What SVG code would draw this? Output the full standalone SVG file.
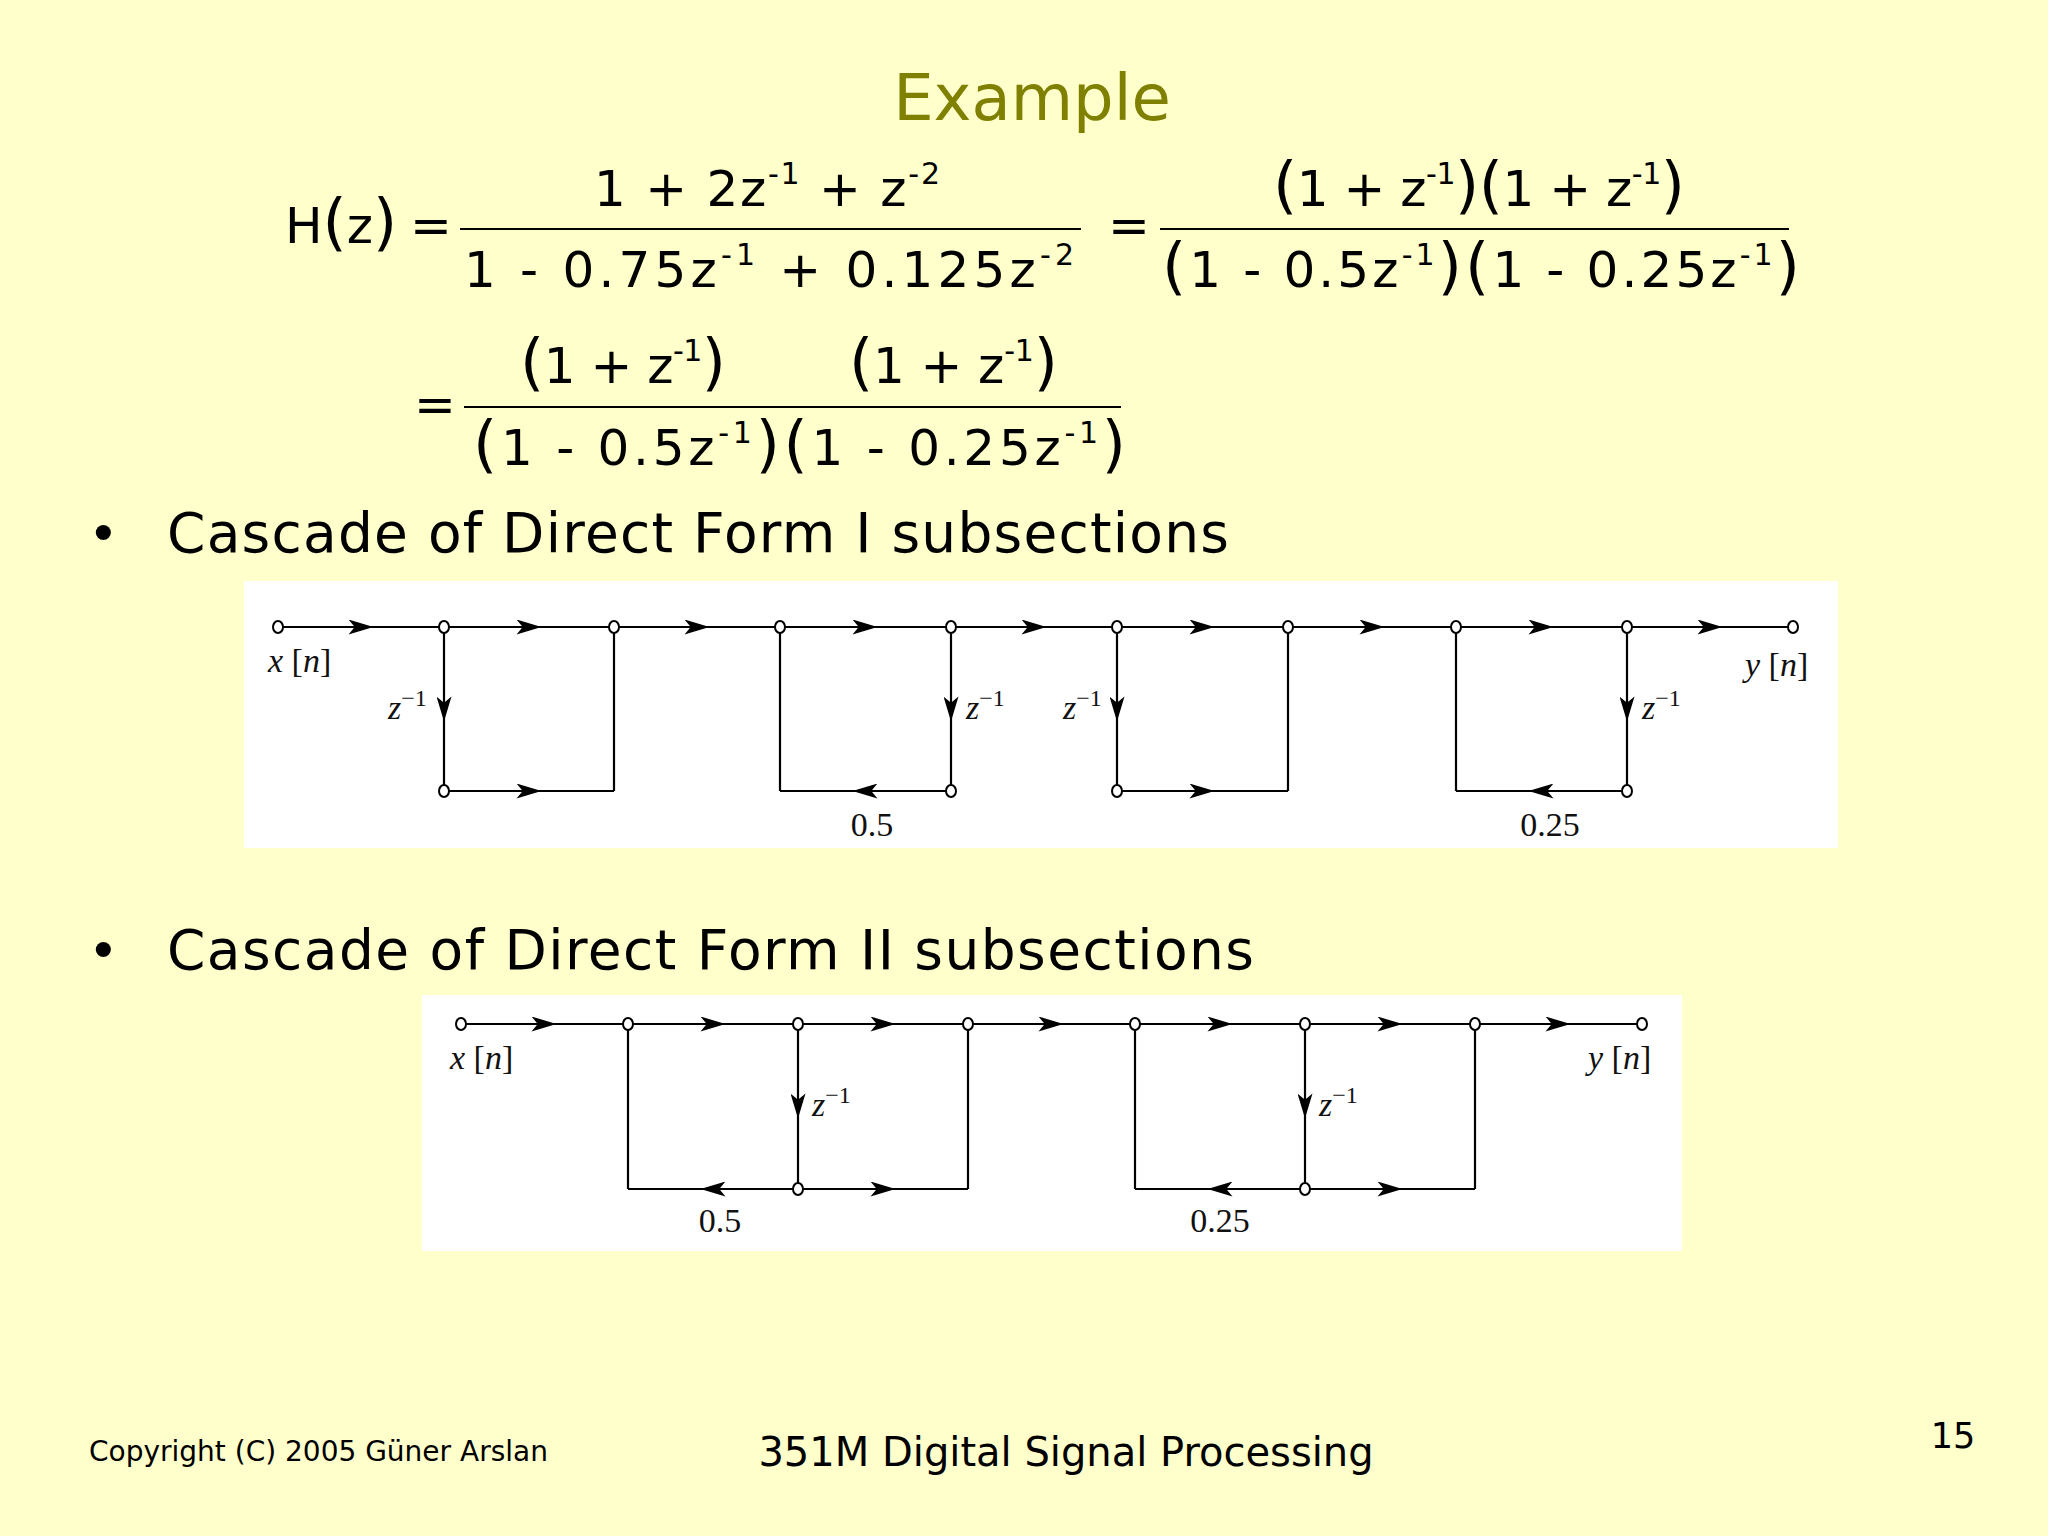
<svg xmlns="http://www.w3.org/2000/svg" width="2048" height="1536" viewBox="0 0 2048 1536">
<defs>
<marker id="ah" viewBox="0 0 20 12" refX="10" refY="6" markerWidth="26" markerHeight="15" markerUnits="userSpaceOnUse" orient="auto"><path d="M0,0 L20,6 L0,12 L5,6 Z" fill="#000"/></marker>
</defs>
<style>
.eq{font-family:"DejaVu Sans",Verdana,sans-serif;font-size:50px;fill:#000}
.sup{font-size:30px}
.w{font-family:"DejaVu Sans",Verdana,sans-serif;fill:#000}
.e{fill:none;stroke:#000;stroke-width:2.2}
.a{fill:none;stroke:#000;stroke-width:2.2;marker-mid:url(#ah)}
.n{fill:#fff;stroke:#000;stroke-width:2}
.l{font-family:"Liberation Serif","Times New Roman",serif;font-size:34px;fill:#111}
.i{font-style:italic}
</style>
<rect width="2048" height="1536" fill="#FFFFCC"/>
<text x="1032" y="120" text-anchor="middle" font-family="DejaVu Sans,Verdana,sans-serif" font-size="64" fill="#808000">Example</text>

<g id="equations">
<text class="eq" x="285" y="243">H<tspan font-size="62">(</tspan>z<tspan font-size="62">)</tspan></text>
<text class="eq" x="410" y="243">=</text>
<text class="eq" x="594" y="206" textLength="346" lengthAdjust="spacing">1 + 2z<tspan class="sup" dy="-22">-1</tspan><tspan dy="22"> + z</tspan><tspan class="sup" dy="-22">-2</tspan></text>
<line x1="460" y1="229" x2="1081" y2="229" stroke="#000" stroke-width="2"/>
<text class="eq" x="464" y="287" textLength="610" lengthAdjust="spacing">1 - 0.75z<tspan class="sup" dy="-22">-1</tspan><tspan dy="22"> + 0.125z</tspan><tspan class="sup" dy="-22">-2</tspan></text>
<text class="eq" x="1108" y="243">=</text>
<text class="eq" x="1273" y="206" textLength="412" lengthAdjust="spacing"><tspan font-size="62">(</tspan>1 + z<tspan class="sup" dy="-22">-1</tspan><tspan dy="22" font-size="62">)(</tspan>1 + z<tspan class="sup" dy="-22">-1</tspan><tspan dy="22" font-size="62">)</tspan></text>
<line x1="1160" y1="229" x2="1789" y2="229" stroke="#000" stroke-width="2"/>
<text class="eq" x="1162" y="287" textLength="638" lengthAdjust="spacing"><tspan font-size="62">(</tspan>1 - 0.5z<tspan class="sup" dy="-22">-1</tspan><tspan dy="22" font-size="62">)(</tspan>1 - 0.25z<tspan class="sup" dy="-22">-1</tspan><tspan dy="22" font-size="62">)</tspan></text>
<text class="eq" x="414" y="422">=</text>
<text class="eq" x="520" y="383" textLength="206" lengthAdjust="spacing"><tspan font-size="62">(</tspan>1 + z<tspan class="sup" dy="-22">-1</tspan><tspan dy="22" font-size="62">)</tspan></text>
<text class="eq" x="849" y="383" textLength="209" lengthAdjust="spacing"><tspan font-size="62">(</tspan>1 + z<tspan class="sup" dy="-22">-1</tspan><tspan dy="22" font-size="62">)</tspan></text>
<line x1="464" y1="407" x2="1121" y2="407" stroke="#000" stroke-width="2"/>
<text class="eq" x="473" y="465" textLength="653" lengthAdjust="spacing"><tspan font-size="62">(</tspan>1 - 0.5z<tspan class="sup" dy="-22">-1</tspan><tspan dy="22" font-size="62">)(</tspan>1 - 0.25z<tspan class="sup" dy="-22">-1</tspan><tspan dy="22" font-size="62">)</tspan></text>
</g>

<text class="w" x="88" y="552" font-size="52">•</text>
<text class="w" x="167" y="552" font-size="55" textLength="1062" lengthAdjust="spacing">Cascade of Direct Form I subsections</text>
<text class="w" x="88" y="969" font-size="52">•</text>
<text class="w" x="167" y="969" font-size="55" textLength="1087" lengthAdjust="spacing">Cascade of Direct Form II subsections</text>

<rect x="244" y="581" width="1594" height="267" fill="#fff"/>
<rect x="422" y="995" width="1260" height="256" fill="#fff"/>

<g id="connectors">
<path class="a" d="M278,627 L361,627 L444,627"/>
<path class="a" d="M444,627 L529,627 L614,627"/>
<path class="a" d="M614,627 L697,627 L780,627"/>
<path class="a" d="M780,627 L865,627 L951,627"/>
<path class="a" d="M951,627 L1034,627 L1117,627"/>
<path class="a" d="M1117,627 L1202,627 L1288,627"/>
<path class="a" d="M1288,627 L1372,627 L1456,627"/>
<path class="a" d="M1456,627 L1541,627 L1627,627"/>
<path class="a" d="M1627,627 L1710,627 L1793,627"/>
<path class="a" d="M444,627 L444,709 L444,791"/>
<path class="a" d="M951,627 L951,709 L951,791"/>
<path class="a" d="M1117,627 L1117,709 L1117,791"/>
<path class="a" d="M1627,627 L1627,709 L1627,791"/>
<path class="e" d="M614,627 V791 M780,627 V791 M1288,627 V791 M1456,627 V791"/>
<path class="a" d="M444,791 L529,791 L614,791"/>
<path class="a" d="M951,791 L865,791 L780,791"/>
<path class="a" d="M1117,791 L1202,791 L1288,791"/>
<path class="a" d="M1627,791 L1541,791 L1456,791"/>

<path class="a" d="M461,1024 L544,1024 L628,1024"/>
<path class="a" d="M628,1024 L713,1024 L798,1024"/>
<path class="a" d="M798,1024 L883,1024 L968,1024"/>
<path class="a" d="M968,1024 L1051,1024 L1135,1024"/>
<path class="a" d="M1135,1024 L1220,1024 L1305,1024"/>
<path class="a" d="M1305,1024 L1390,1024 L1475,1024"/>
<path class="a" d="M1475,1024 L1558,1024 L1642,1024"/>
<path class="e" d="M628,1024 V1189 M968,1024 V1189 M1135,1024 V1189 M1475,1024 V1189"/>
<path class="a" d="M798,1024 L798,1106 L798,1189"/>
<path class="a" d="M1305,1024 L1305,1106 L1305,1189"/>
<path class="a" d="M798,1189 L713,1189 L628,1189"/>
<path class="a" d="M798,1189 L883,1189 L968,1189"/>
<path class="a" d="M1305,1189 L1220,1189 L1135,1189"/>
<path class="a" d="M1305,1189 L1390,1189 L1475,1189"/>
</g>

<g id="nodes1">
<ellipse class="n" cx="278" cy="627" rx="5" ry="6"/><ellipse class="n" cx="444" cy="627" rx="5" ry="6"/>
<ellipse class="n" cx="614" cy="627" rx="5" ry="6"/><ellipse class="n" cx="780" cy="627" rx="5" ry="6"/>
<ellipse class="n" cx="951" cy="627" rx="5" ry="6"/><ellipse class="n" cx="1117" cy="627" rx="5" ry="6"/>
<ellipse class="n" cx="1288" cy="627" rx="5" ry="6"/><ellipse class="n" cx="1456" cy="627" rx="5" ry="6"/>
<ellipse class="n" cx="1627" cy="627" rx="5" ry="6"/><ellipse class="n" cx="1793" cy="627" rx="5" ry="6"/>
<ellipse class="n" cx="444" cy="791" rx="5" ry="6"/><ellipse class="n" cx="951" cy="791" rx="5" ry="6"/>
<ellipse class="n" cx="1117" cy="791" rx="5" ry="6"/><ellipse class="n" cx="1627" cy="791" rx="5" ry="6"/>
</g>
<g id="nodes2">
<ellipse class="n" cx="461" cy="1024" rx="5" ry="6"/><ellipse class="n" cx="628" cy="1024" rx="5" ry="6"/>
<ellipse class="n" cx="798" cy="1024" rx="5" ry="6"/><ellipse class="n" cx="968" cy="1024" rx="5" ry="6"/>
<ellipse class="n" cx="1135" cy="1024" rx="5" ry="6"/><ellipse class="n" cx="1305" cy="1024" rx="5" ry="6"/>
<ellipse class="n" cx="1475" cy="1024" rx="5" ry="6"/><ellipse class="n" cx="1642" cy="1024" rx="5" ry="6"/>
<ellipse class="n" cx="798" cy="1189" rx="5" ry="6"/><ellipse class="n" cx="1305" cy="1189" rx="5" ry="6"/>
</g>

<g id="labels">
<text class="l" x="268" y="672"><tspan class="i">x</tspan> [<tspan class="i">n</tspan>]</text>
<text class="l" x="1745" y="676"><tspan class="i">y</tspan> [<tspan class="i">n</tspan>]</text>
<text class="l" x="388" y="719"><tspan class="i">z</tspan><tspan font-size="24" dy="-13">−1</tspan></text>
<text class="l" x="966" y="719"><tspan class="i">z</tspan><tspan font-size="24" dy="-13">−1</tspan></text>
<text class="l" x="1063" y="719"><tspan class="i">z</tspan><tspan font-size="24" dy="-13">−1</tspan></text>
<text class="l" x="1642" y="719"><tspan class="i">z</tspan><tspan font-size="24" dy="-13">−1</tspan></text>
<text class="l" x="872" y="836" text-anchor="middle">0.5</text>
<text class="l" x="1550" y="836" text-anchor="middle">0.25</text>
<text class="l" x="450" y="1069"><tspan class="i">x</tspan> [<tspan class="i">n</tspan>]</text>
<text class="l" x="1588" y="1069"><tspan class="i">y</tspan> [<tspan class="i">n</tspan>]</text>
<text class="l" x="812" y="1116"><tspan class="i">z</tspan><tspan font-size="24" dy="-13">−1</tspan></text>
<text class="l" x="1319" y="1116"><tspan class="i">z</tspan><tspan font-size="24" dy="-13">−1</tspan></text>
<text class="l" x="720" y="1232" text-anchor="middle">0.5</text>
<text class="l" x="1220" y="1232" text-anchor="middle">0.25</text>
</g>

<text class="w" x="89" y="1461" font-size="28">Copyright (C) 2005 Güner Arslan</text>
<text class="w" x="1066" y="1466" font-size="40" text-anchor="middle">351M Digital Signal Processing</text>
<text class="w" x="1953" y="1448" font-size="35" text-anchor="middle">15</text>
</svg>
